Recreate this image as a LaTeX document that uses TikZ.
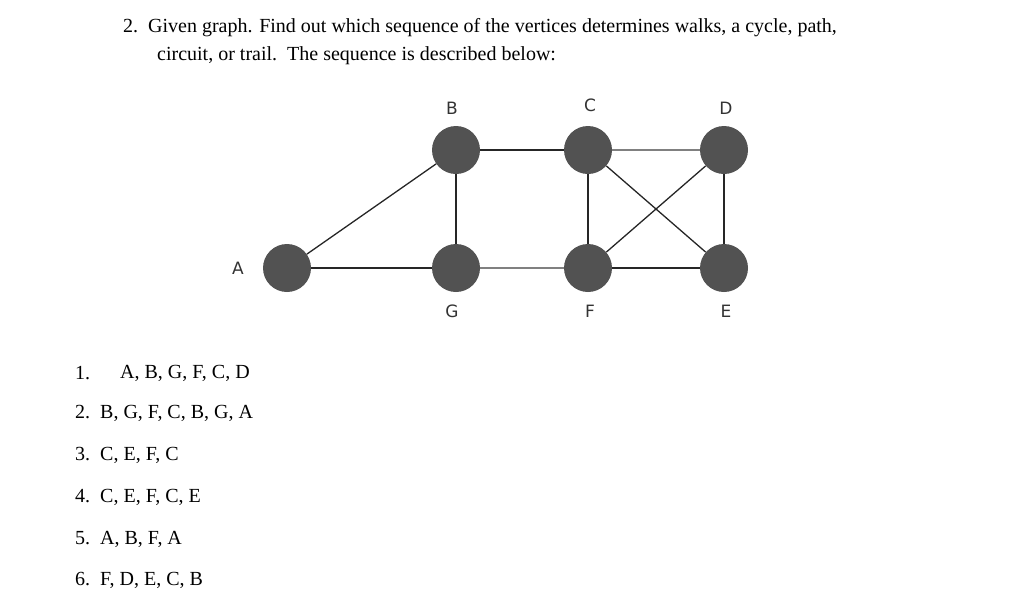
\documentclass[tikz,border=0pt]{standalone}
\usepackage{fontspec}
\setmainfont{Liberation Serif}
\newfontfamily\lblfont{DejaVu Sans}
\begin{document}
\begin{tikzpicture}[x=1pt,y=-1pt,
  vtx/.style={circle,fill=black!68,minimum size=48pt,inner sep=0pt},
  lbl/.style={font=\lblfont\fontsize{17}{20}\selectfont,text=black!80},
  txt/.style={font=\fontsize{20}{24}\selectfont,anchor=west,inner sep=0pt},
  edge/.style={line width=1.3pt,black!85},
  gedge/.style={line width=1.6pt,black!50}]
\useasboundingbox (0,0) rectangle (1024,606);
\node[vtx] (A) at (287,268) {};
\node[vtx] (B) at (456,150) {};
\node[vtx] (C) at (588,150) {};
\node[vtx] (D) at (724,150) {};
\node[vtx] (G) at (456,268) {};
\node[vtx] (F) at (588,268) {};
\node[vtx] (E) at (724,268) {};
\begin{scope}[on background layer/.style={}]
\end{scope}
\node[lbl] (lA) at (238,268) {A};
\node[lbl] (lB) at (452,108) {B};
\node[lbl] (lC) at (590,105) {C};
\node[lbl] (lD) at (726,108) {D};
\node[lbl] (lG) at (452,311) {G};
\node[lbl] (lF) at (590,311) {F};
\node[lbl] (lE) at (726,311) {E};
\draw[edge] (A) -- (B);
\draw[edge] (A) -- (G);
\draw[edge] (B) -- (C);
\draw[edge] (B) -- (G);
\draw[gedge] (C) -- (D);
\draw[edge] (C) -- (F);
\draw[edge] (C) -- (E);
\draw[edge] (D) -- (F);
\draw[edge] (D) -- (E);
\draw[gedge] (G) -- (F);
\draw[edge] (F) -- (E);
\node[txt] (t1) at (123,28) {2.\ \ Given graph. Find out which sequence of the vertices determines walks, a cycle, path,};
\node[txt] (t2) at (157,56) {circuit, or trail.\ \ The sequence is described below:};
\node[txt] (n1) at (75,373) {1.};
\node[txt] (s1) at (120,373) {A, B, G, F, C, D};
\node[txt] (n2) at (75,413) {2.\ \ B, G, F, C, B, G, A};
\node[txt] (n3) at (75,455) {3.\ \ C, E, F, C};
\node[txt] (n4) at (75,497) {4.\ \ C, E, F, C, E};
\node[txt] (n5) at (75,539) {5.\ \ A, B, F, A};
\node[txt] (n6) at (75,580) {6.\ \ F, D, E, C, B};
\end{tikzpicture}
\end{document}
